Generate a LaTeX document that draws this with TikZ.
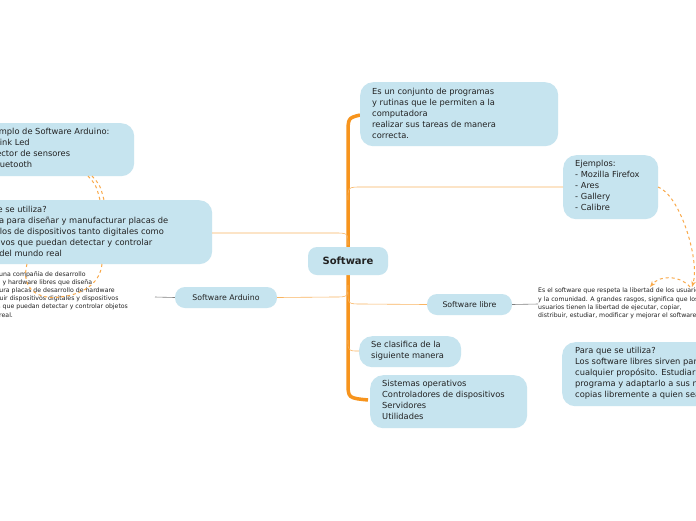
\documentclass[tikz,border=0pt]{standalone}
\usepackage{fontspec}
\setmainfont{DejaVu Sans}
\usetikzlibrary{arrows.meta}
\definecolor{bx}{HTML}{C6E4EF}
\definecolor{tr}{HTML}{F7941D}
\definecolor{tx}{HTML}{222222}
\tikzset{
 bub/.style={fill=bx,rounded corners=13pt,inner sep=0pt,anchor=north west},
 bt/.style={anchor=north west,align=left,inner sep=0pt,text=tx,font=\fontsize{8.3}{11}\selectfont},
 sm/.style={align=left,anchor=north west,text=tx,font=\fontsize{6.2}{8.2}\selectfont,inner sep=0pt},
 thin/.style={draw=tr!70,line width=0.6pt},
 dsh/.style={draw=tr!80,dashed,line width=1pt},
}
\begin{document}
\begin{tikzpicture}[x=1pt,y=-1pt]
\useasboundingbox (0,0) rectangle (696,520);
\fill[white] (0,0) rectangle (696,520);
\clip (0,0) rectangle (696,520);
% trunk
\draw[tr,line width=3.5pt] (360,115) .. controls (348,118) .. (348,135) -- (348,382) .. controls (348,398) .. (368,400);
% boxes
\node[bub,minimum width=198pt,minimum height=64pt] (top) at (360,82) {};
\node[bt] at (372,88) {Es un conjunto de programas\\y rutinas que le permiten a la\\computadora\\realizar sus tareas de manera\\correcta.};
\node[bub,minimum width=95pt,minimum height=64pt] (ej) at (563,155) {};
\node[bt] at (575,160) {Ejemplos:\\- Mozilla Firefox\\- Ares\\- Gallery\\- Calibre};
\node[fill=bx,rounded corners=9pt,minimum width=80pt,minimum height=28pt,font=\bfseries\fontsize{10}{12}\selectfont,text=tx] (sw) at (348,261) {Software};
\node[fill=bx,rounded corners=10pt,minimum width=85pt,minimum height=21pt,font=\fontsize{7.8}{10}\selectfont,text=tx] (sl) at (469.5,304.5) {Software libre};
\node[sm] (sld) at (538,288) {Es el software que respeta la libertad de los usuarios\\y la comunidad. A grandes rasgos, significa que los\\usuarios tienen la libertad de ejecutar, copiar,\\distribuir, estudiar, modificar y mejorar el software.};
\node[bub,minimum width=102pt,minimum height=31pt] (sc) at (359,336) {};
\node[bt] at (371,341) {Se clasifica de la\\siguiente manera};
\node[bub,minimum width=157pt,minimum height=53pt] (so) at (370,375) {};
\node[bt] at (382,380) {Sistemas operativos\\Controladores de dispositivos\\Servidores\\Utilidades};
\node[bub,minimum width=180pt,minimum height=64pt] (pl) at (562,342) {};
\node[bt] at (575,347) {Para que se utiliza?\\Los software libres sirven para\\cualquier propósito. Estudiar un\\programa y adaptarlo a sus necesidades.\\copias libremente a quien sea.};
% left side
\node[bub,minimum width=250pt,minimum height=64pt] (pu) at (-38,200) {};
\node[bt] at (-34,206) {Para que se utiliza?\\Se utiliza para diseñar y manufacturar placas de\\desarrollos de dispositivos tanto digitales como\\dispositivos que puedan detectar y controlar\\objetos del mundo real};
\node[bub,minimum width=170pt,minimum height=53pt] (ea) at (-36,123) {};
\node[bt] at (-14,128) {Ejemplo de Software Arduino:\\- Blink Led\\- Lector de sensores\\- Bluetooth};
\node[fill=bx,rounded corners=10pt,minimum width=102pt,minimum height=21pt,font=\fontsize{7.8}{10}\selectfont,text=tx] (sa) at (226,297.5) {Software Arduino};
\node[sm] (sad) at (-36,271) {Arduino es una compañía de desarrollo\\de software y hardware libres que diseña\\y manufactura placas de desarrollo de hardware\\para construir dispositivos digitales y dispositivos\\interactivos que puedan detectar y controlar objetos\\del mundo real.};
% branch connectors
\draw[thin] (348,200) .. controls (348,187) .. (362,187) -- (ej.west|-0,187);
\draw[thin] (348,292) .. controls (348,304) .. (362,304) -- (sl.west);
\draw[thin] (348,340) .. controls (348,351) .. (359,351);
\draw[thin] (348,245) .. controls (348,233) .. (334,233) -- (212,233);
\draw[thin] (348,285) .. controls (348,297) .. (334,297) -- (sa.east);
\draw[gray,line width=0.6pt] (sl.east) -- (sld.west|-0,304);
\draw[gray,line width=0.6pt] (sa.west) -- (155,297);
% dashed
\draw[dsh,-{Stealth[length=6pt]}] (658,187) .. controls (680,195) and (700,260) .. (692,287);
\draw[dsh,-{Stealth[length=6pt]}] (690,287) .. controls (680,275) and (660,275) .. (650,287);
\draw[dsh] (88,176) .. controls (96,185) .. (100,200);
\draw[dsh] (92,176) .. controls (100,185) .. (104,200);
\draw[dsh] (102,264) .. controls (100,285) and (80,295) .. (60,297);
\draw[dsh] (27,264) .. controls (20,290) and (40,300) .. (60,297);
\end{tikzpicture}
\end{document}
